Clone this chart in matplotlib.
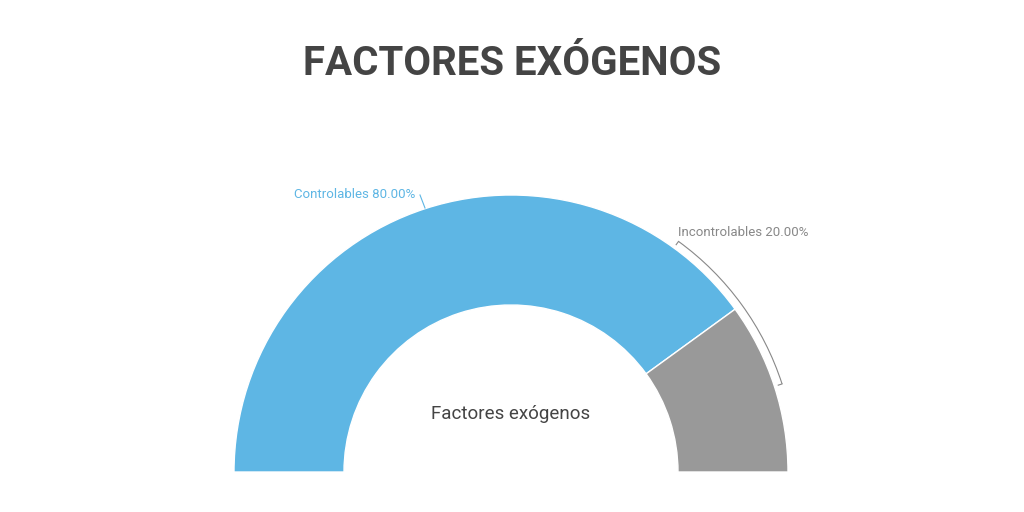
import matplotlib
matplotlib.use("Agg")
import matplotlib.pyplot as plt
from matplotlib.patches import Wedge, Arc
import numpy as np

categories = ["Controlables", "Incontrolables"]
values = [80.0, 20.0]
colors = ["#5EB6E4", "#999999"]
title = "FACTORES EXÓGENOS"
center_label = "Factores exógenos"

fig = plt.figure(figsize=(10.24, 5.12), dpi=100)
ax = fig.add_axes([0, 0, 1, 1])
ax.set_xlim(0, 1024); ax.set_ylim(0, 512); ax.axis("off")
cx, cy, R, W = 511, 40, 277, 110

total = sum(values)
start = 180.0
angles = []
for v, c in zip(values, colors):
    span = 180.0 * v / total
    ax.add_patch(Wedge((cx, cy), R, start - span, start, width=W, facecolor=c,
                       edgecolor="white", linewidth=1))
    angles.append((start - span, start))
    start -= span

# Labels
ax.plot([420, 425], [512-195, 512-208], color=colors[0], lw=0.8)
ax.text(294, 512-194, f"{categories[0]} {values[0]:.2f}%", color=colors[0],
        fontsize=9.5, family="Roboto", va="center", ha="left")
ax.text(678, 512-233, f"{categories[1]} {values[1]:.2f}%", color="#888888",
        fontsize=9.5, family="Roboto", va="center", ha="left")
# bracket
rb = 285
a1, a2 = 18, 54
ax.add_patch(Arc((cx, cy), 2*rb, 2*rb, theta1=a1, theta2=a2, color="#888888", lw=0.8))
for a in (a1, a2):
    t = np.radians(a)
    ax.plot([cx+rb*np.cos(t), cx+(rb-4)*np.cos(t)], [cy+rb*np.sin(t), cy+(rb-4)*np.sin(t)],
            color="#888888", lw=0.8)

ax.text(512, 512-64, title, ha="center", va="center", fontsize=29, fontweight="bold",
        family="Roboto", color="#444444")
ax.text(511, 512-414, center_label, ha="center", va="center", fontsize=13.5,
        family="Roboto", color="#444444")
fig.savefig("out.png", dpi=100)
